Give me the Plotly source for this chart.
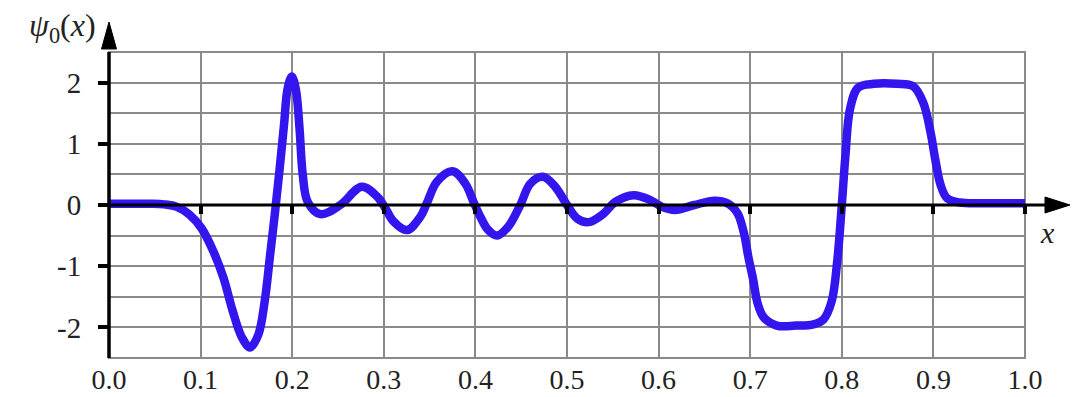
import plotly.graph_objects as go

# ---- data ----
x_vals = [0.000, 0.020, 0.045, 0.060, 0.074, 0.088, 0.101, 0.114, 0.125, 0.135,
          0.145, 0.154, 0.163, 0.170, 0.176, 0.181, 0.186, 0.191, 0.195,
          0.1996, 0.204, 0.208, 0.2115, 0.217, 0.2307, 0.2525, 0.276, 0.2926,
          0.3016, 0.3107, 0.3253, 0.340, 0.347, 0.358, 0.375, 0.389, 0.398,
          0.406, 0.414, 0.4236, 0.436, 0.449, 0.460, 0.4738, 0.487, 0.500,
          0.511, 0.5236, 0.540, 0.5527, 0.5727, 0.591, 0.6037, 0.618, 0.639,
          0.661, 0.675, 0.686, 0.693, 0.698, 0.703, 0.708, 0.715, 0.729, 0.750,
          0.769, 0.780, 0.789, 0.795, 0.800, 0.804, 0.809, 0.818, 0.835, 0.860,
          0.878, 0.889, 0.897, 0.902, 0.908, 0.915, 0.929, 0.960, 1.000]
psi_vals = [0.02, 0.02, 0.02, 0.01, -0.03, -0.16, -0.38, -0.76, -1.19, -1.73,
            -2.16, -2.33, -2.12, -1.57, -0.80, -0.15, 0.55, 1.30, 1.90,
            2.10, 1.89, 1.25, 0.50, 0.05, -0.15, 0.00, 0.30, 0.14,
            -0.05, -0.27, -0.41, -0.19, 0.03, 0.38, 0.55, 0.35, 0.05,
            -0.21, -0.41, -0.50, -0.35, 0.00, 0.35, 0.46, 0.30, 0.00,
            -0.22, -0.28, -0.14, 0.05, 0.16, 0.08, -0.03, -0.08, 0.00,
            0.07, 0.03, -0.13, -0.45, -0.85, -1.20, -1.60, -1.84, -1.97, -1.97,
            -1.95, -1.87, -1.57, -0.92, 0.00, 0.81, 1.57, 1.92, 1.98, 1.98,
            1.94, 1.67, 1.18, 0.75, 0.32, 0.11, 0.04, 0.03, 0.03]

x_ticks = [round(0.1 * i, 1) for i in range(11)]
x_tick_labels = ["%.1f" % v for v in x_ticks]
y_ticks = [-2, -1, 0, 1, 2]
y_tick_labels = ["-2", "-1", "0", "1", "2"]

FONT = "Liberation Serif"
GRID = "#8a8a8a"
BLUE = "#3316EE"
TEXT = "#222222"

fig = go.Figure()
fig.add_trace(go.Scatter(
    x=x_vals, y=psi_vals, mode="lines",
    line=dict(color=BLUE, width=8.5, shape="spline", smoothing=1.0),
    hoverinfo="skip", showlegend=False, cliponaxis=False,
))

# small downward ticks on the x axis line (y = 0), drawn by an overlay axis
fig.add_trace(go.Scatter(x=[0, 1], y=[0, 0], xaxis="x2", mode="lines",
                         line=dict(width=0, color="rgba(0,0,0,0)"),
                         showlegend=False, hoverinfo="skip"))

fig.update_layout(
    width=1078, height=397,
    margin=dict(l=109, r=53, t=52, b=39, autoexpand=False),
    paper_bgcolor="white", plot_bgcolor="white",
    font=dict(family=FONT, size=29, color=TEXT),
    xaxis=dict(range=[0, 1], tickvals=x_ticks, ticktext=x_tick_labels,
               ticks="", showgrid=True, gridcolor=GRID, gridwidth=2,
               zeroline=False, showline=False, ticklabelstandoff=2,
               tickfont=dict(size=28), automargin=False),
    xaxis2=dict(overlaying="x", matches="x", anchor="free", position=0.5,
                side="bottom", tickvals=x_ticks[1:], ticks="outside",
                ticklen=8, tickwidth=3.5, tickcolor="black",
                showticklabels=False, showgrid=False, showline=False,
                zeroline=False, automargin=False),
    yaxis=dict(range=[-2.5, 2.5], tickvals=y_ticks, ticktext=y_tick_labels,
               ticks="outside", ticklen=10, tickwidth=3.5, tickcolor="black",
               showgrid=True, gridcolor=GRID, gridwidth=2,
               minor=dict(dtick=0.5, showgrid=True, gridcolor=GRID,
                          gridwidth=2, ticks=""),
               zeroline=False, showline=False, ticklabelstandoff=11,
               automargin=False),
)

shapes = [
    # gray frame
    dict(type="rect", xref="paper", yref="paper", x0=0, x1=1, y0=0, y1=1,
         line=dict(color=GRID, width=2), layer="below"),
    # x axis line with arrow (y = 0 is the middle of the plot)
    dict(type="path", xref="paper", yref="paper", xsizemode="pixel", ysizemode="pixel",
         xanchor=0, yanchor=0.5, path="M 0 0 L 940 0",
         line=dict(color="black", width=3), layer="above"),
    dict(type="path", xref="paper", yref="paper", xsizemode="pixel", ysizemode="pixel",
         xanchor=1, yanchor=0.5, path="M 20 8 L 45 0 L 20 -8 Z",
         fillcolor="black", line=dict(color="black", width=1), layer="above"),
    # y axis line with arrow
    dict(type="line", xref="paper", yref="paper", x0=0, x1=0, y0=0, y1=1,
         line=dict(color="black", width=3.5), layer="above"),
    dict(type="path", xref="paper", yref="paper", xsizemode="pixel", ysizemode="pixel",
         xanchor=0, yanchor=1, path="M -7.5 3 L 0 30 L 7.5 3 Z",
         fillcolor="black", line=dict(color="black", width=1), layer="above"),
]
fig.update_layout(shapes=shapes)

fig.add_annotation(text="<i>ψ</i><sub>0</sub>(<i>x</i>)", xref="paper", yref="paper",
                   x=0, y=1, xshift=-11, yshift=2, xanchor="right", yanchor="bottom",
                   showarrow=False, font=dict(family=FONT, size=32, color=TEXT))
fig.add_annotation(text="<i>x</i>", xref="paper", yref="paper", x=1, y=0.5,
                   xshift=22, yshift=-27, xanchor="center", yanchor="middle",
                   showarrow=False, font=dict(family=FONT, size=30, color=TEXT))

fig.write_html("out.html")
